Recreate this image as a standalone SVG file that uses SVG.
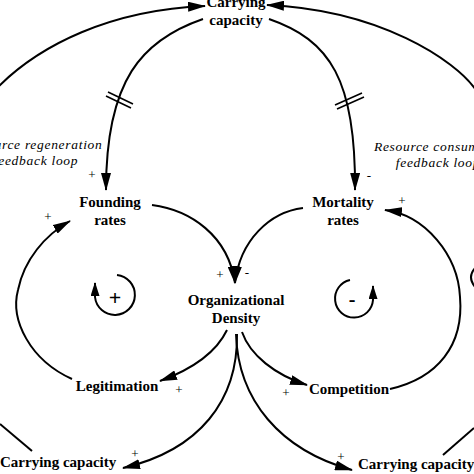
<svg xmlns="http://www.w3.org/2000/svg" width="474" height="474" viewBox="0 0 474 474">
<defs>
<style>
.n{font-family:"Liberation Serif","Times New Roman",serif;font-weight:bold;font-size:15px;fill:#000;text-anchor:middle}
.it{font-family:"Liberation Serif","Times New Roman",serif;font-style:italic;font-size:13.5px;letter-spacing:0.7px;fill:#000;text-anchor:middle}
.s{font-family:"Liberation Serif","Times New Roman",serif;font-size:13px;fill:#000;text-anchor:middle}
.c{fill:none;stroke:#000;stroke-width:2}
.h{fill:none;stroke:#000;stroke-width:1.6}
</style>
<marker id="ah" markerWidth="18" markerHeight="10" refX="17" refY="5" orient="auto" markerUnits="userSpaceOnUse"><path d="M0,0 L18,5 L0,10 Z" fill="#000"/></marker>
<marker id="as" markerWidth="14" markerHeight="9" refX="13" refY="4.5" orient="auto" markerUnits="userSpaceOnUse"><path d="M0,0 L14,4.5 L0,9 Z" fill="#000"/></marker>
</defs>
<rect width="474" height="474" fill="#fff"/>

<g id="connectors">
<path class="c" d="M-2,87 C40,45 110,10 205,6" marker-end="url(#ah)"/>
<path class="c" d="M476,90 C455,60 380,10 267,5" marker-end="url(#ah)"/>
<path class="c" d="M203,19 C142,40 106,80 106,190" marker-end="url(#ah)"/>
<path class="c" d="M269,19 C330,40 356,80 355,190" marker-end="url(#ah)"/>
<path class="h" d="M108,92 L133,104 M106,96 L131,108"/>
<path class="h" d="M335,105 L362,93 M337,109 L364,97"/>
<path class="c" d="M152,205 C190,210 228,235 235,283" marker-end="url(#ah)"/>
<path class="c" d="M303,208 C270,212 240,240 235,283" marker-end="url(#ah)"/>
<path class="c" d="M227,330 C215,355 190,370 160,381" marker-end="url(#ah)"/>
<path class="c" d="M242,332 C250,355 275,375 307,385" marker-end="url(#ah)"/>
<path class="c" d="M237,334 C238,400 200,450 123,468" marker-end="url(#ah)"/>
<path class="c" d="M236,334 C238,400 280,450 352,470" marker-end="url(#ah)"/>
<path class="c" d="M72,379 C30,360 10,320 18,290 C24,260 45,235 70,221" marker-end="url(#ah)"/>
<path class="c" d="M390,389 C438,378 464,345 460,297 C458,255 425,215 385,210" marker-end="url(#ah)"/>
<path class="c" d="M0,424 L32,451"/>
<path class="c" d="M474,428 L443,455"/>
<path class="c" d="M476,267 Q466,277 476,288"/>
</g>

<g id="loop-reinforcing">
<path class="c" d="M117,275 A20,20 0 1 1 95,297 L95,283" marker-end="url(#as)"/>
<text x="115" y="305" style="font-family:'Liberation Serif',serif;font-weight:bold;font-size:22px;text-anchor:middle">+</text>
</g>
<g id="loop-balancing">
<path class="c" d="M350,280 A19,19 0 1 0 373,300 L373,286" marker-end="url(#as)"/>
<text x="352" y="306" style="font-family:'Liberation Serif',serif;font-weight:bold;font-size:20px;text-anchor:middle">-</text>
</g>

<g id="carrying-capacity-top"><text class="n" x="236" y="7">Carrying</text><text class="n" x="236" y="25">capacity</text></g>
<g id="founding-rates"><text class="n" x="110" y="207">Founding</text><text class="n" x="110" y="225">rates</text></g>
<g id="mortality-rates"><text class="n" x="343" y="207">Mortality</text><text class="n" x="343" y="225">rates</text></g>
<g id="organizational-density"><text class="n" x="236" y="305">Organizational</text><text class="n" x="236" y="323">Density</text></g>
<g id="legitimation"><text class="n" x="117" y="391">Legitimation</text></g>
<g id="competition"><text class="n" x="349" y="394">Competition</text></g>
<g id="carrying-capacity-left"><text class="n" x="0" y="467" style="text-anchor:start">Carrying capacity</text></g>
<g id="carrying-capacity-right"><text class="n" x="358" y="469" style="text-anchor:start">Carrying capacity</text></g>

<g id="loop-labels">
<text class="it" x="34" y="149">Resource regeneration</text>
<text class="it" x="36" y="165">feedback loop</text>
<text class="it" x="442" y="151">Resource consumption</text>
<text class="it" x="438" y="167">feedback loop</text>
</g>

<g id="polarities">
<text class="s" x="92" y="179">+</text>
<text class="s" x="369" y="180">-</text>
<text class="s" x="48" y="221">+</text>
<text class="s" x="402" y="205">+</text>
<text class="s" x="220" y="279">+</text>
<text class="s" x="247" y="277">-</text>
<text class="s" x="179" y="394">+</text>
<text class="s" x="286" y="397">+</text>
<text class="s" x="135" y="458">+</text>
<text class="s" x="341" y="461">+</text>
</g>
</svg>
